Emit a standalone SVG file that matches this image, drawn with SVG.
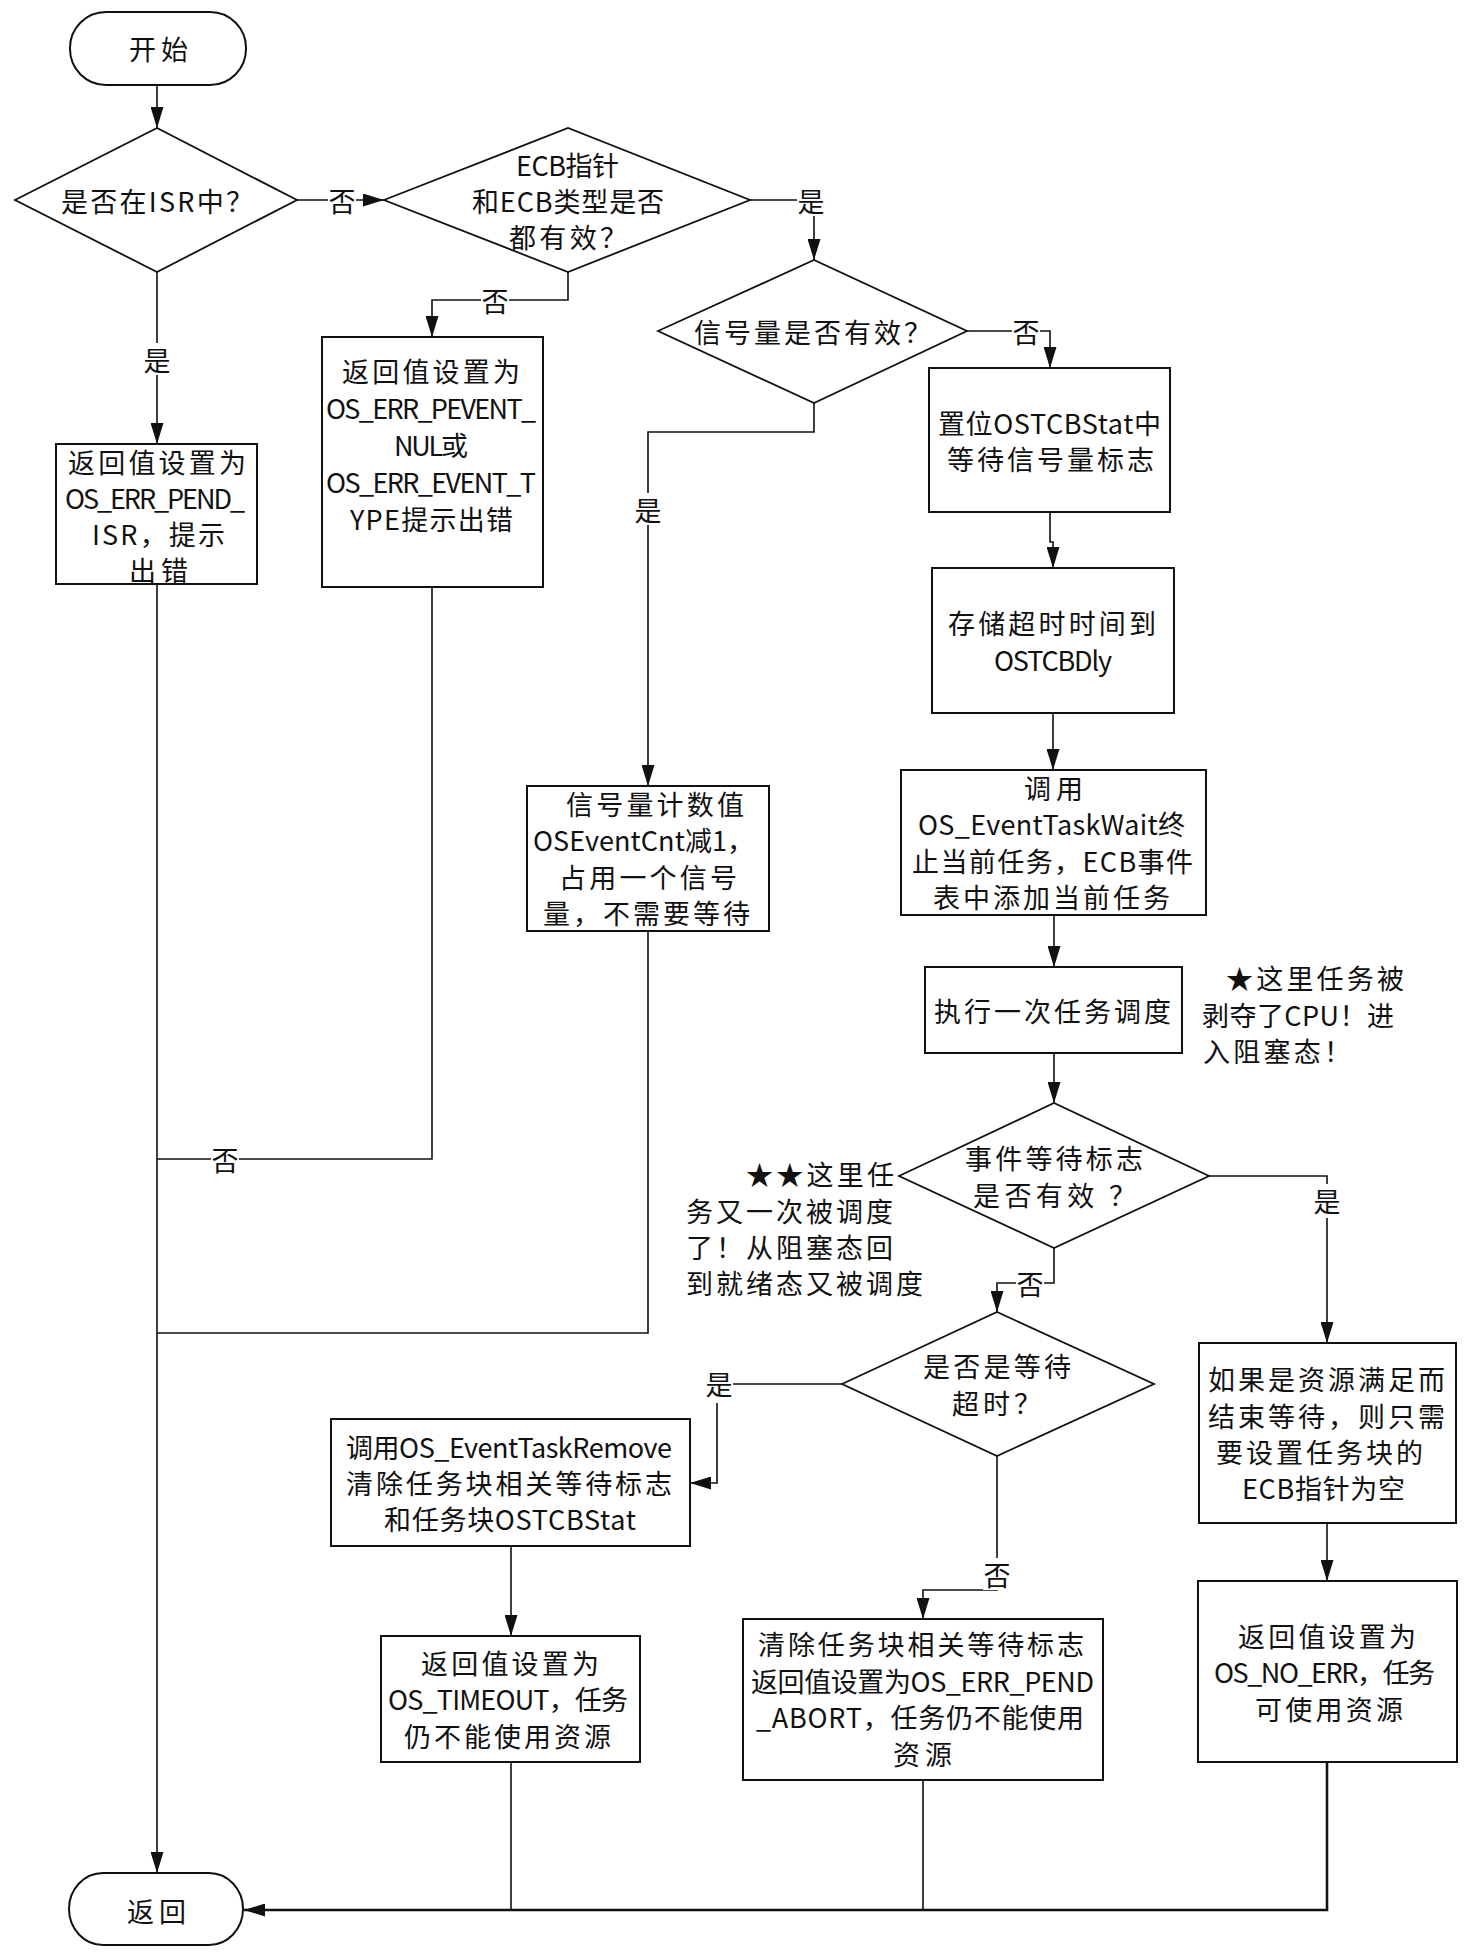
<svg xmlns="http://www.w3.org/2000/svg" width="1469" height="1957" viewBox="0 0 1469 1957">
<defs>
<style>
.bx{fill:#fff;stroke:#111;stroke-width:2}
.dm{fill:#fff;stroke:#111;stroke-width:1.8}
.cn{fill:none;stroke:#111;stroke-width:1.6}
.cn2{fill:none;stroke:#111;stroke-width:2.6}
text{font-family:"Noto Sans CJK SC","Liberation Sans",sans-serif;font-size:27px;fill:#111;dominant-baseline:central}
.lb{text-anchor:middle}
.lbg{fill:#fff;stroke:none}
</style>
<marker id="ar" markerUnits="userSpaceOnUse" markerWidth="21" markerHeight="13" viewBox="0 0 21 13" refX="21" refY="6.5" orient="auto">
<path d="M0,0 L21,6.5 L0,13 z" fill="#111"/>
</marker>
</defs>
<rect width="1469" height="1957" fill="#fff"/>

<g id="connectors">
<path class="cn" d="M157,85 V128" marker-end="url(#ar)"/>
<path class="cn" d="M297,200 H384" marker-end="url(#ar)"/>
<path class="cn" d="M750,200 H814 V260" marker-end="url(#ar)"/>
<path class="cn" d="M568,272 V300 H432 V337" marker-end="url(#ar)"/>
<path class="cn" d="M157,272 V444" marker-end="url(#ar)"/>
<path class="cn" d="M967,331 H1050 V368" marker-end="url(#ar)"/>
<path class="cn" d="M814,403 V432 H648 V786" marker-end="url(#ar)"/>
<path class="cn" d="M1050,512 V542 H1053 V568" marker-end="url(#ar)"/>
<path class="cn" d="M1053,713 V770" marker-end="url(#ar)"/>
<path class="cn" d="M1054,915 V967" marker-end="url(#ar)"/>
<path class="cn" d="M1054,1053 V1103" marker-end="url(#ar)"/>
<path class="cn" d="M1209,1176 H1327 V1343" marker-end="url(#ar)"/>
<path class="cn" d="M1054,1248 V1283 H997 V1312" marker-end="url(#ar)"/>
<path class="cn" d="M842,1384 H717 V1483 H690" marker-end="url(#ar)"/>
<path class="cn" d="M997,1456 V1590 H923 V1619" marker-end="url(#ar)"/>
<path class="cn" d="M511,1546 V1636" marker-end="url(#ar)"/>
<path class="cn" d="M1327,1523 V1581" marker-end="url(#ar)"/>
<path class="cn" d="M157,584 V1873" marker-end="url(#ar)"/>
<path class="cn" d="M432,587 V1159 H157"/>
<path class="cn" d="M648,931 V1333 H157"/>
<path class="cn" d="M511,1762 V1910"/>
<path class="cn" d="M923,1780 V1910"/>
<path class="cn2" d="M1327,1762 V1910 H244" marker-end="url(#ar)"/>
</g>

<g id="labels">
<rect class="lbg" x="328" y="186" width="28" height="28"/><text class="lb" x="342" y="200">否</text>
<rect class="lbg" x="797" y="186" width="28" height="30"/><text class="lb" x="811" y="200">是</text>
<rect class="lbg" x="481" y="286" width="28" height="28"/><text class="lb" x="495" y="300">否</text>
<rect class="lbg" x="1012" y="317" width="28" height="28"/><text class="lb" x="1026" y="331">否</text>
<rect class="lbg" x="143" y="343" width="28" height="32"/><text class="lb" x="157" y="359">是</text>
<rect class="lbg" x="634" y="493" width="28" height="32"/><text class="lb" x="648" y="509">是</text>
<rect class="lbg" x="211" y="1145" width="28" height="28"/><text class="lb" x="225" y="1159">否</text>
<rect class="lbg" x="1313" y="1184" width="28" height="34"/><text class="lb" x="1327" y="1200">是</text>
<rect class="lbg" x="1016" y="1269" width="28" height="28"/><text class="lb" x="1030" y="1283">否</text>
<rect class="lbg" x="705" y="1369" width="28" height="34"/><text class="lb" x="719" y="1383">是</text>
<rect class="lbg" x="983" y="1558" width="28" height="32"/><text class="lb" x="997" y="1574">否</text>
</g>

<g id="start">
<rect class="bx" x="70" y="12" width="176" height="73" rx="36" ry="36"/>
<text x="129" y="48" textLength="59">开始</text>
</g>

<g id="isr">
<polygon class="dm" points="15,200 157,128 297,200 157,272"/>
<text x="61" y="200" textLength="192">是否在ISR中？</text>
</g>

<g id="ecbvalid">
<polygon class="dm" points="384,200 568,128 750,200 568,272"/>
<text x="516" y="164" textLength="103">ECB指针</text>
<text x="472" y="200" textLength="192">和ECB类型是否</text>
<text x="509" y="236" textLength="118">都有效？</text>
</g>

<g id="semvalid">
<polygon class="dm" points="658,331 814,260 967,331 814,403"/>
<text x="694" y="331" textLength="237">信号量是否有效？</text>
</g>

<g id="errisr">
<rect class="bx" x="56" y="444" width="201" height="140"/>
<text x="68" y="461" textLength="178">返回值设置为</text>
<text x="65" y="497" textLength="180">OS_ERR_PEND_</text>
<text x="92" y="533" textLength="133">ISR，提示</text>
<text x="129" y="569" textLength="59">出错</text>
</g>

<g id="errpevent">
<rect class="bx" x="322" y="337" width="221" height="250"/>
<text x="342" y="370" textLength="178">返回值设置为</text>
<text x="326" y="407" textLength="210">OS_ERR_PEVENT_</text>
<text x="394" y="444" textLength="74">NUL或</text>
<text x="326" y="481" textLength="210">OS_ERR_EVENT_T</text>
<text x="350" y="518" textLength="163">YPE提示出错</text>
</g>

<g id="semcnt">
<rect class="bx" x="527" y="786" width="242" height="145"/>
<text x="566" y="803" textLength="178">信号量计数值</text>
<text x="533" y="839" textLength="221">OSEventCnt减1，</text>
<text x="559" y="876" textLength="178">占用一个信号</text>
<text x="543" y="912" textLength="207">量，不需要等待</text>
</g>

<g id="setstat">
<rect class="bx" x="929" y="368" width="241" height="144"/>
<text x="938" y="422" textLength="223">置位OSTCBStat中</text>
<text x="947" y="458" textLength="207">等待信号量标志</text>
</g>

<g id="storedly">
<rect class="bx" x="932" y="568" width="242" height="145"/>
<text x="948" y="622" textLength="208">存储超时时间到</text>
<text x="994" y="659" textLength="118">OSTCBDly</text>
</g>

<g id="taskwait">
<rect class="bx" x="901" y="770" width="305" height="145"/>
<text x="1024" y="787" textLength="59">调用</text>
<text x="918" y="823" textLength="267">OS_EventTaskWait终</text>
<text x="912" y="860" textLength="281">止当前任务，ECB事件</text>
<text x="933" y="896" textLength="237">表中添加当前任务</text>
</g>

<g id="sched">
<rect class="bx" x="925" y="967" width="257" height="86"/>
<text x="934" y="1010" textLength="237">执行一次任务调度</text>
</g>

<g id="note1">
<text x="1226" y="977" textLength="178">★这里任务被</text>
<text x="1202" y="1014" textLength="192">剥夺了CPU！进</text>
<text x="1203" y="1050" textLength="148">入阻塞态！</text>
</g>

<g id="eventflag">
<polygon class="dm" points="899,1176 1054,1103 1209,1176 1054,1248"/>
<text x="965" y="1157" textLength="178">事件等待标志</text>
<text x="973" y="1194" textLength="163">是否有效 ？</text>
</g>

<g id="note2">
<text x="746" y="1173" textLength="148">★★这里任</text>
<text x="686" y="1210" textLength="207">务又一次被调度</text>
<text x="686" y="1246" textLength="207">了！从阻塞态回</text>
<text x="686" y="1282" textLength="237">到就绪态又被调度</text>
</g>

<g id="timeoutq">
<polygon class="dm" points="842,1384 997,1312 1154,1384 997,1456"/>
<text x="923" y="1365" textLength="148">是否是等待</text>
<text x="952" y="1402" textLength="89">超时？</text>
</g>

<g id="ecbnull">
<rect class="bx" x="1199" y="1343" width="257" height="180"/>
<text x="1208" y="1378" textLength="237">如果是资源满足而</text>
<text x="1208" y="1415" textLength="237">结束等待，则只需</text>
<text x="1216" y="1451" textLength="207">要设置任务块的</text>
<text x="1242" y="1487" textLength="163">ECB指针为空</text>
</g>

<g id="taskremove">
<rect class="bx" x="331" y="1419" width="359" height="127"/>
<text x="346" y="1446" textLength="326">调用OS_EventTaskRemove</text>
<text x="346" y="1482" textLength="326">清除任务块相关等待标志</text>
<text x="384" y="1518" textLength="252">和任务块OSTCBStat</text>
</g>

<g id="rettimeout">
<rect class="bx" x="381" y="1636" width="259" height="126"/>
<text x="421" y="1662" textLength="178">返回值设置为</text>
<text x="388" y="1698" textLength="240">OS_TIMEOUT，任务</text>
<text x="404" y="1735" textLength="207">仍不能使用资源</text>
</g>

<g id="retabort">
<rect class="bx" x="743" y="1619" width="360" height="161"/>
<text x="758" y="1643" textLength="326">清除任务块相关等待标志</text>
<text x="751" y="1680" textLength="343">返回值设置为OS_ERR_PEND</text>
<text x="756" y="1716" textLength="328">_ABORT，任务仍不能使用</text>
<text x="893" y="1753" textLength="59">资源</text>
</g>

<g id="retnoerr">
<rect class="bx" x="1198" y="1581" width="259" height="181"/>
<text x="1238" y="1635" textLength="178">返回值设置为</text>
<text x="1214" y="1671" textLength="221">OS_NO_ERR，任务</text>
<text x="1255" y="1708" textLength="148">可使用资源</text>
</g>

<g id="end">
<rect class="bx" x="69" y="1873" width="174" height="72" rx="34" ry="36"/>
<text x="127" y="1910" textLength="59">返回</text>
</g>
</svg>
